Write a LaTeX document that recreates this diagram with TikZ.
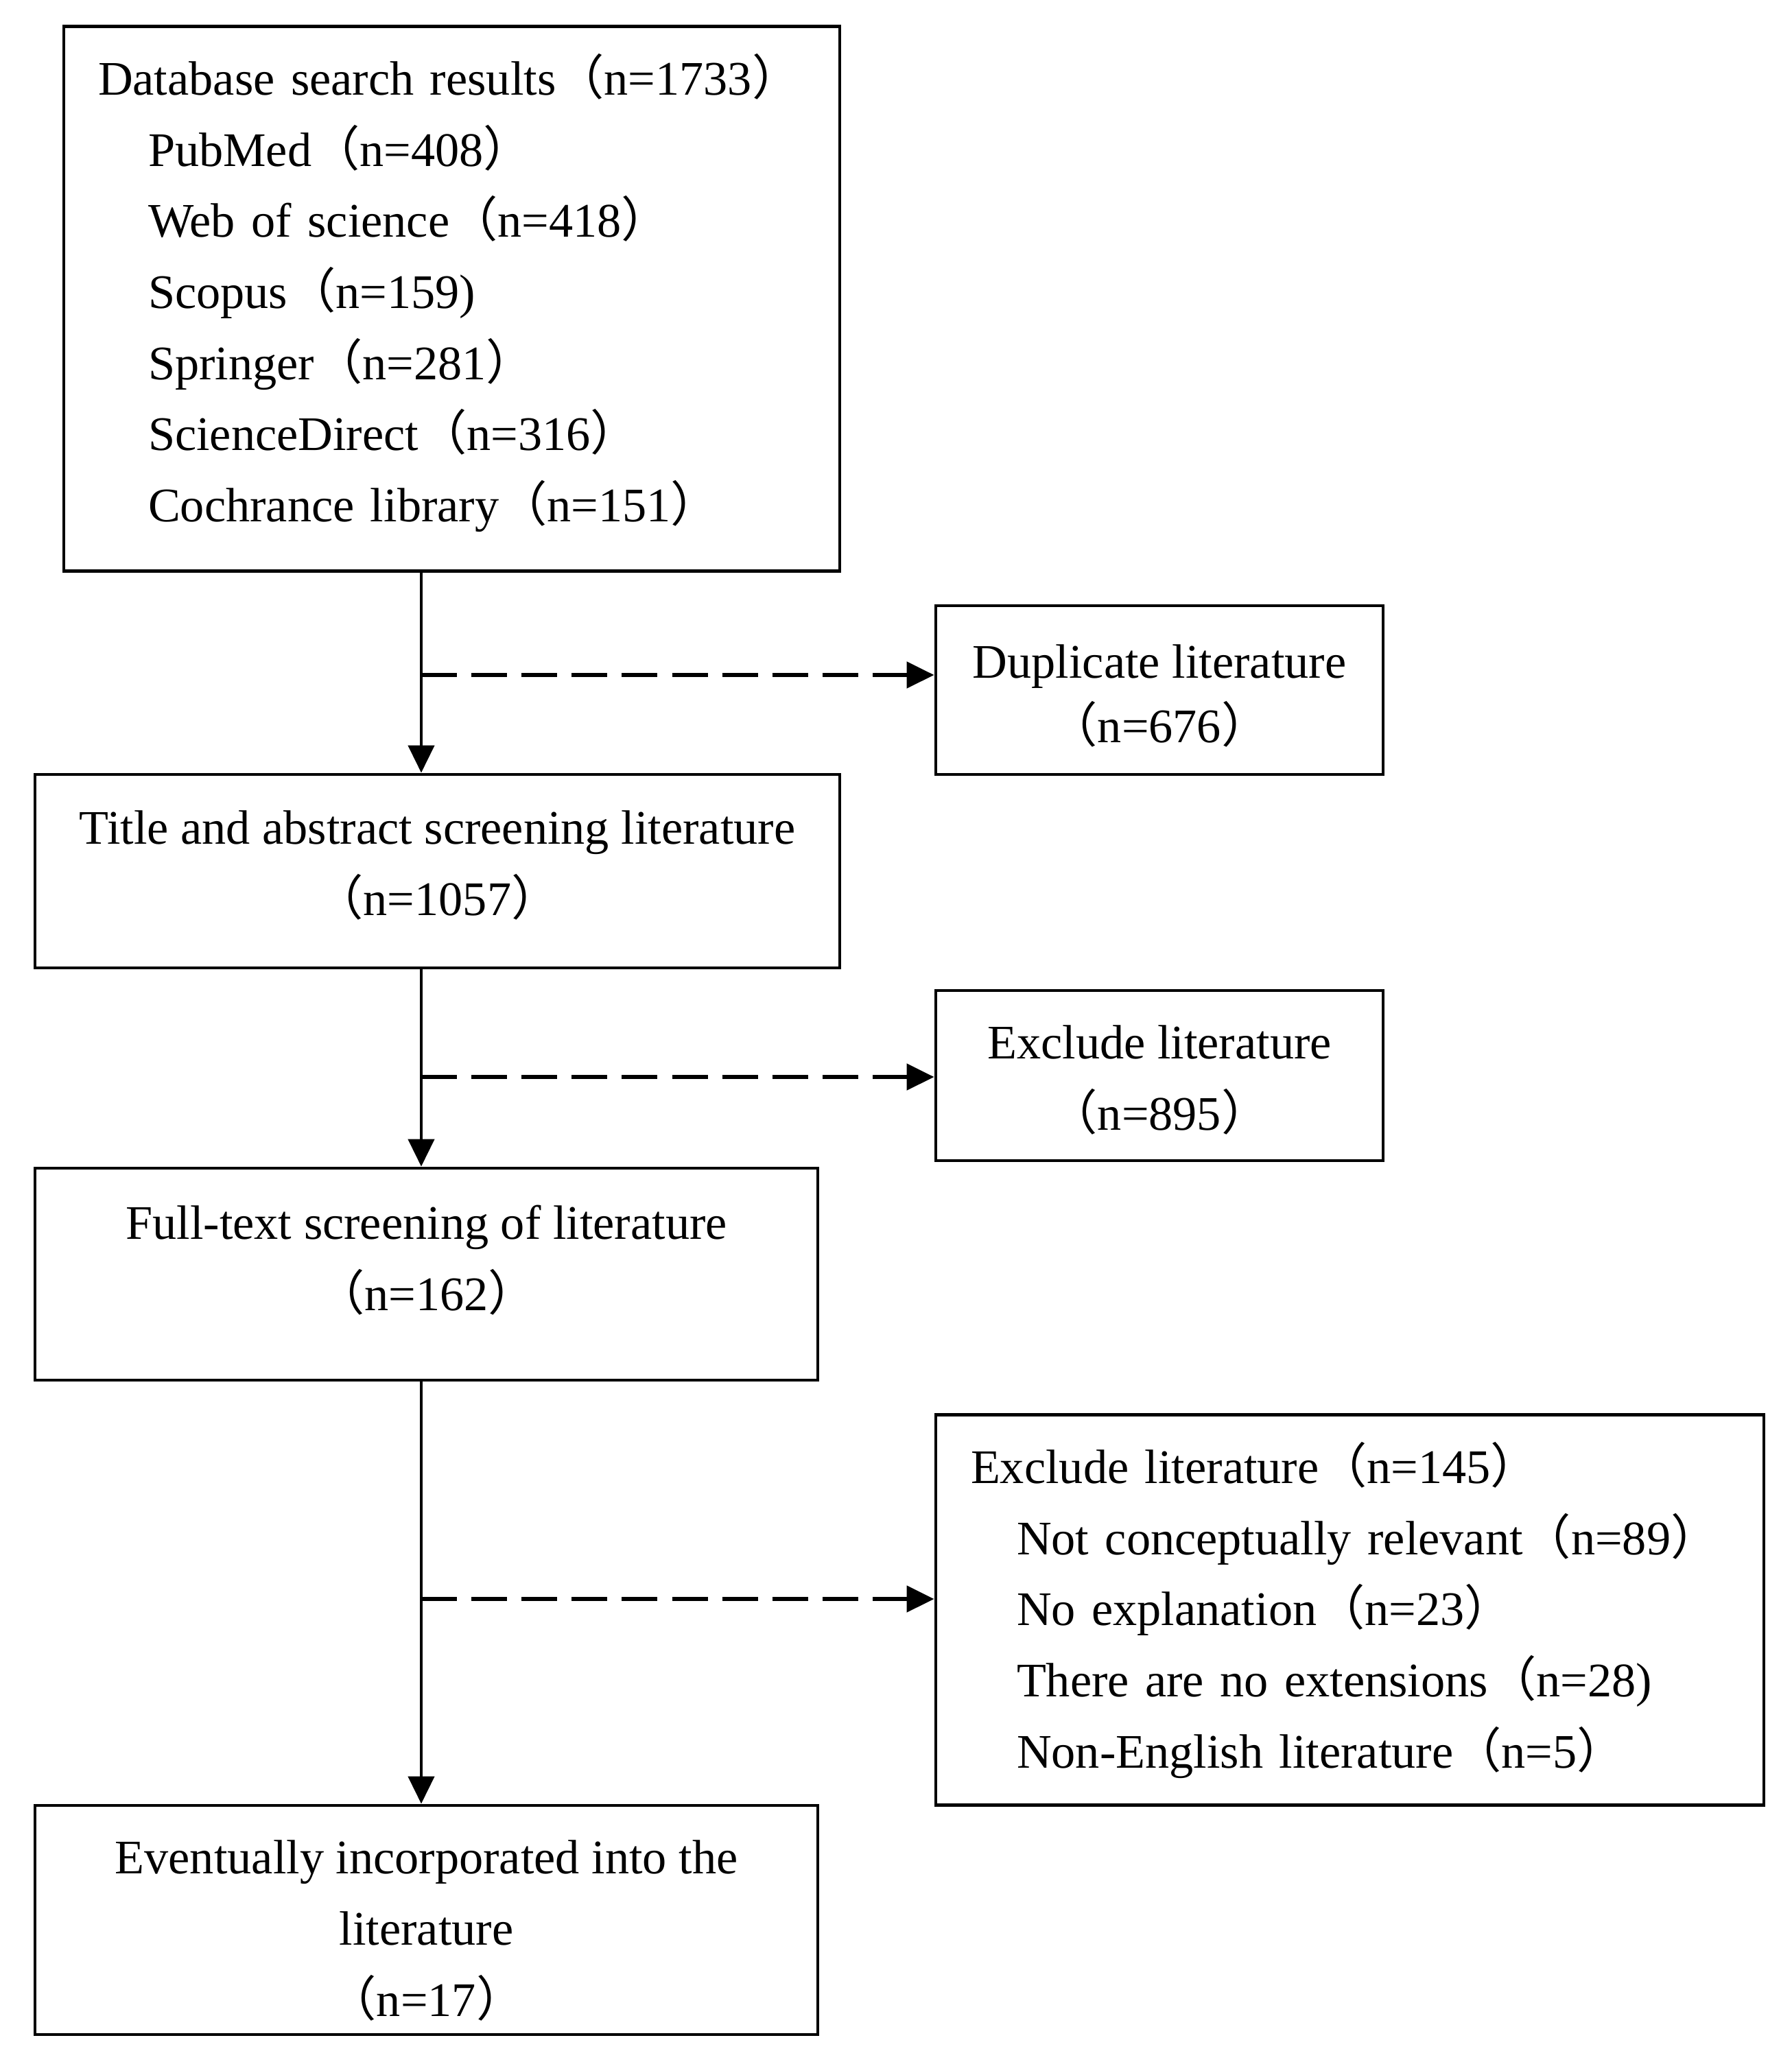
\documentclass[tikz,border=0pt]{standalone}
\usepackage{fontspec}
\setmainfont{Liberation Serif}
\newfontfamily\cjk{Noto Sans CJK SC}
\usetikzlibrary{arrows.meta}
\newcommand{\lpar}{{\cjk （}}
\newcommand{\rpar}{{\cjk ）}}
\tikzset{
    boxnode/.style = {draw=black, line width=1.4pt, inner sep=0pt, text height=1cm, font=\fontsize{20}{29.5}\selectfont},
    main_box/.style = {boxnode, align=center},
    list_box/.style = {boxnode, align=left, inner xsep=0.5cm},
    flow/.style = {line width=1.3pt, -{Triangle[length=0.40cm, width=0.38cm]}},
    skip/.style = {flow, line width=1.6pt, dash pattern=on 14.8pt off 6pt}
}

\begin{document}
\begin{tikzpicture}
    \useasboundingbox (0,0) rectangle (26.11,-29.90);

    % main column
    \node [list_box, text width=10.31cm, text depth=6.94cm] (db) at (6.585,-4.355)
        {Database search results\lpar n=1733\rpar\\
         \hspace*{0.73cm}PubMed\lpar n=408\rpar\\
         \hspace*{0.73cm}Web of science\lpar n=418\rpar\\
         \hspace*{0.73cm}Scopus\lpar n=159)\\
         \hspace*{0.73cm}Springer\lpar n=281\rpar\\
         \hspace*{0.73cm}ScienceDirect\lpar n=316\rpar\\
         \hspace*{0.73cm}Cochrance library\lpar n=151\rpar};
    \node [main_box, minimum width=11.73cm, text height=2.05cm, text depth=0.77cm] (ta) at (6.375,-12.70)
        {Title and abstract screening literature\\\lpar n=1057\rpar};
    \node [main_box, minimum width=11.41cm, text height=2.07cm, text depth=1.02cm] (ft) at (6.215,-18.575)
        {Full-text screening of literature\\\lpar n=162\rpar};
    \node [main_box, minimum width=11.41cm, text height=3.07cm, text depth=0.27cm] (inc) at (6.215,-27.99)
        {Eventually incorporated into the\\literature\\\lpar n=17\rpar};

    % side column
    \node [main_box, minimum width=6.52cm, text height=1.99cm, text depth=0.47cm] (dup) at (16.90,-10.06)
        {Duplicate literature\\[-0.1cm]\lpar n=676\rpar};
    \node [main_box, minimum width=6.52cm, text height=2.03cm, text depth=0.45cm] (ex1) at (16.90,-15.68)
        {Exclude literature\\\lpar n=895\rpar};
    \node [list_box, text width=11.05cm, inner xsep=0.51cm, text depth=4.69cm] (ex2) at (19.675,-23.47)
        {Exclude literature\lpar n=145\rpar\\
         \hspace*{0.67cm}Not conceptually relevant\lpar n=89\rpar\\
         \hspace*{0.67cm}No explanation\lpar n=23\rpar\\
         \hspace*{0.67cm}There are no extensions\lpar n=28)\\
         \hspace*{0.67cm}Non-English literature\lpar n=5\rpar};

    % branch points
    \coordinate (j1) at (6.14,-9.84);
    \coordinate (j2) at (6.14,-15.70);
    \coordinate (j3) at (6.14,-23.31);

    \draw [flow] (db.south -| j1) -- (ta.north -| j1);
    \draw [flow] (ta.south -| j2) -- (ft.north -| j2);
    \draw [flow] (ft.south -| j3) -- (inc.north -| j3);
    \draw [skip] (j1) -- (dup.west |- j1);
    \draw [skip] (j2) -- (ex1.west |- j2);
    \draw [skip] (j3) -- (ex2.west |- j3);
\end{tikzpicture}
\end{document}
